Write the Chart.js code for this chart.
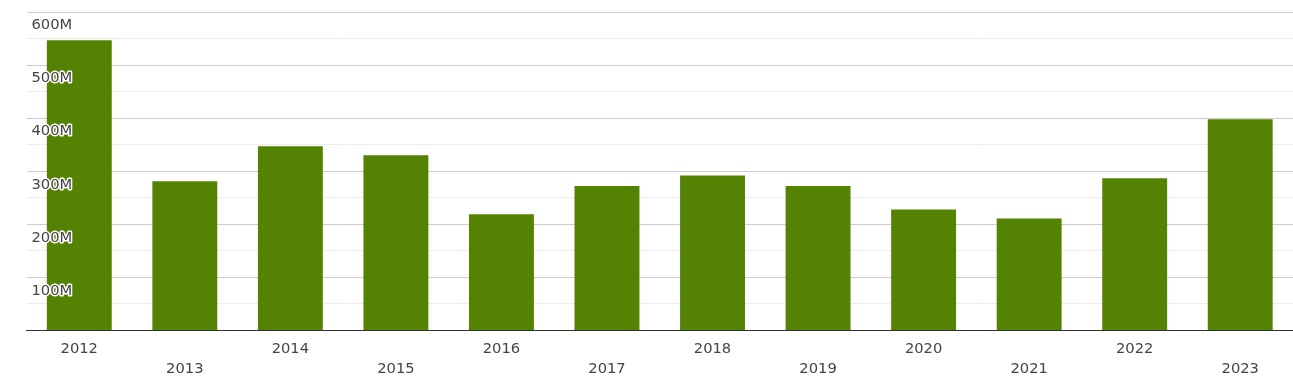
<!DOCTYPE html>
<html>
<head>
<meta charset="utf-8">
<script src="https://cdn.jsdelivr.net/npm/chart.js@4"></script>
<style>
html,body{margin:0;padding:0;background:#fff;}
#wrap{width:1293px;height:384px;position:relative;}
</style>
</head>
<body>
<div id="wrap"><canvas id="c" width="1293" height="384"></canvas></div>
<script>
const years = ['2012','2013','2014','2015','2016','2017','2018','2019','2020','2021','2022','2023'];
const valuesM = [547, 281, 347, 330, 219, 272, 292, 272, 228, 211, 287, 398];
const yMax = 600;
const yStep = 50;

const xLabels = years.map((y, i) => i % 2 === 0 ? [y] : ['', y]);
const fmtY = (v) => (v > 0 && v % 100 === 0) ? (v + 'M') : '';

const yLabelPlugin = {
  id: 'yLabelPlugin',
  afterDatasetsDraw(chart) {
    const ctx = chart.ctx;
    const ys = chart.scales.y;
    const left = chart.chartArea.left;
    ctx.save();
    ctx.font = '14.7px "DejaVu Sans"';
    ctx.textAlign = 'left';
    ctx.textBaseline = 'middle';
    ctx.lineJoin = 'round';
    ys.ticks.forEach(t => {
      const s = fmtY(t.value);
      if (!s) return;
      const py = ys.getPixelForValue(t.value) + 13.5;
      ctx.strokeStyle = '#fff';
      ctx.lineWidth = 3;
      ctx.strokeText(s, left + 5, py);
      ctx.fillStyle = '#444';
      ctx.fillText(s, left + 5, py);
    });
    ctx.restore();
  }
};

new Chart(document.getElementById('c'), {
  type: 'bar',
  data: {
    labels: xLabels,
    datasets: [{
      data: valuesM,
      backgroundColor: '#548203',
      borderWidth: 0,
      barPercentage: 0.615,
      categoryPercentage: 1.0
    }]
  },
  plugins: [yLabelPlugin],
  options: {
    responsive: false,
    animation: false,
    devicePixelRatio: 1,
    layout: { padding: { left: 26.5, top: 12, right: 0, bottom: -3.5 } },
    plugins: { legend: { display: false }, tooltip: { enabled: false } },
    scales: {
      x: {
        grid: { display: false, drawTicks: false },
        border: { display: true, color: '#333', width: 1 },
        ticks: {
          color: '#444',
          font: { family: 'DejaVu Sans', size: 14.7, lineHeight: 1.36 },
          padding: 8.5,
          maxRotation: 0,
          autoSkip: false
        }
      },
      y: {
        min: 0,
        max: yMax,
        grid: {
          drawTicks: false,
          color: (ctx) => {
            const v = ctx.tick ? ctx.tick.value : 0;
            if (v === 0) return '#333';
            return v % 100 === 0 ? '#cccccc' : '#ececec';
          },
          lineWidth: 1
        },
        border: { display: false },
        ticks: {
          stepSize: yStep,
          display: false
        }
      }
    }
  }
});
</script>
</body>
</html>
